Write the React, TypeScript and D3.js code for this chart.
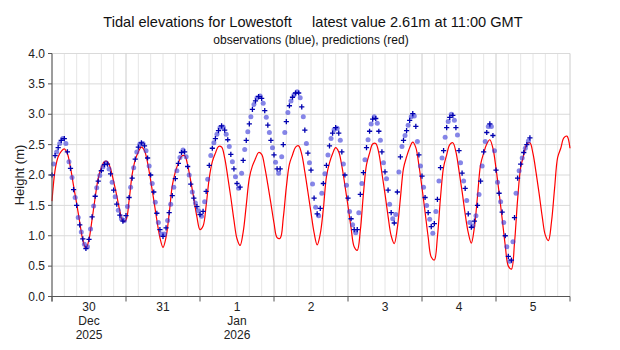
import React from "react";
import * as d3 from "d3";

// hours since 30 Dec 2025 00:00 GMT
const dayLabels = ["30", "31", "1", "2", "3", "4", "5"];
const monthLabels = ["Dec", "", "Jan", "", "", "", ""];
const yearLabels = ["2025", "", "2026", "", "", "", ""];
const yTicks = [0, 0.5, 1, 1.5, 2, 2.5, 3, 3.5, 4];

// predictions, hourly from 00:00 30 Dec to 00:00 6 Jan
const predicted = [
  1.57, 2.08, 2.3, 2.39, 2.43, 2.35, 2.12, 1.82, 1.53, 1.22,
  0.93, 0.79, 0.94, 1.27, 1.63, 1.95, 2.12, 2.22, 2.22, 2.1,
  1.89, 1.66, 1.41, 1.23, 1.26, 1.58, 2.01, 2.25, 2.38, 2.46,
  2.4, 2.2, 1.91, 1.59, 1.26, 0.97, 0.81, 0.98, 1.36, 1.82,
  2.05, 2.2, 2.31, 2.32, 2.16, 1.9, 1.61, 1.31, 1.1, 1.16,
  1.5, 1.95, 2.22, 2.36, 2.47, 2.46, 2.28, 1.97, 1.63, 1.26,
  0.95, 0.84, 1.06, 1.5, 1.95, 2.15, 2.27, 2.37, 2.34, 2.13,
  1.84, 1.53, 1.21, 0.97, 0.96, 1.29, 1.8, 2.18, 2.33, 2.46,
  2.48, 2.34, 2.05, 1.72, 1.38, 1.05, 0.85, 1.03, 1.44, 1.97,
  2.2, 2.35, 2.45, 2.38, 2.15, 1.83, 1.49, 1.13, 0.82, 0.76,
  1.09, 1.69, 2.17, 2.36, 2.51, 2.52, 2.36, 2.03, 1.69, 1.32,
  1.0, 0.87, 1.13, 1.62, 2.11, 2.3, 2.45, 2.54, 2.45, 2.16,
  1.79, 1.39, 0.98, 0.65, 0.6, 0.98, 1.63, 2.13, 2.33, 2.5,
  2.53, 2.38, 2.07, 1.73, 1.36, 1.05, 0.88, 1.14, 1.65, 2.17,
  2.36, 2.51, 2.58, 2.44, 2.11, 1.71, 1.28, 0.84, 0.5, 0.45,
  0.88, 1.59, 2.12, 2.33, 2.51, 2.53, 2.35, 2.04, 1.69, 1.31,
  1.01, 0.92, 1.23, 1.78, 2.29, 2.44, 2.61, 2.64, 2.44,
];

// observations on the hour (+ markers), 00:00 30 Dec to 11:00 5 Jan
const observedOnHour = [
  2.0, 2.32, 2.45, 2.57, 2.6, 2.38, 2.11, 1.76, 1.5, 1.18,
  0.95, 0.79, 0.94, 1.31, 1.65, 1.9, 2.07, 2.17, 2.18, 2.02,
  1.75, 1.52, 1.34, 1.24, 1.33, 1.63, 1.95, 2.26, 2.46, 2.53,
  2.48, 2.28, 2.0, 1.72, 1.37, 1.1, 0.99, 1.13, 1.38, 1.66,
  1.94, 2.19, 2.37, 2.38, 2.14, 1.85, 1.62, 1.48, 1.35, 1.4,
  1.73, 2.16, 2.44, 2.6, 2.73, 2.81, 2.74, 2.58, 2.34, 2.1,
  1.86, 1.8, 2.24, 2.57, 2.84, 3.08, 3.22, 3.29, 3.26, 3.06,
  2.82, 2.57, 2.33, 2.1, 2.1, 2.5, 2.88, 3.14, 3.28, 3.35,
  3.35, 3.12, 2.74, 2.36, 2.08, 1.62, 1.36, 1.45, 1.86, 2.16,
  2.48, 2.69, 2.78, 2.69, 2.38, 2.0, 1.62, 1.28, 1.1, 1.1,
  1.68, 2.04, 2.45, 2.72, 2.92, 2.93, 2.72, 2.38, 2.05, 1.75,
  1.38, 1.21, 1.72, 2.3, 2.57, 2.73, 2.9, 3.01, 2.8, 2.33,
  1.98, 1.63, 1.38, 1.15, 1.2, 1.6, 2.12, 2.4, 2.78, 2.95,
  2.98, 2.78, 2.4, 2.03, 1.78, 1.36, 1.14, 1.24, 1.5, 1.9,
  2.38, 2.7, 2.84, 2.65, 2.08, 1.7, 1.39, 1.0, 0.66, 0.6,
  1.3, 1.95, 2.18, 2.37, 2.5, 2.61,
];

// observations on the half hour (round markers), 00:30 30 Dec to 10:30 5 Jan
const observedHalfHour = [
  2.18, 2.38, 2.52, 2.6, 2.52, 2.22, 1.96, 1.63, 1.3, 1.06,
  0.86, 0.82, 1.11, 1.49, 1.79, 1.99, 2.13, 2.2, 2.1, 1.88,
  1.64, 1.42, 1.28, 1.25, 1.48, 1.8, 2.12, 2.38, 2.51, 2.52,
  2.4, 2.15, 1.86, 1.55, 1.22, 1.03, 1.03, 1.25, 1.52, 1.8,
  2.07, 2.29, 2.41, 2.3, 2.0, 1.72, 1.54, 1.41, 1.32, 1.56,
  1.93, 2.32, 2.53, 2.67, 2.78, 2.79, 2.67, 2.47, 2.22, 1.97,
  1.78, 2.03, 2.42, 2.71, 2.96, 3.16, 3.27, 3.3, 3.18, 2.95,
  2.7, 2.45, 2.21, 2.03, 2.3, 2.7, 3.03, 3.22, 3.32, 3.37,
  3.27, 2.96, 2.52, 2.2, 1.85, 1.47, 1.33, 1.7, 2.02, 2.33,
  2.6, 2.75, 2.77, 2.57, 2.18, 1.83, 1.4, 1.18, 1.05, 1.38,
  1.86, 2.25, 2.58, 2.84, 2.96, 2.85, 2.57, 2.2, 1.94, 1.52,
  1.28, 1.35, 2.05, 2.47, 2.65, 2.82, 2.96, 2.97, 2.55, 2.15,
  1.8, 1.5, 1.27, 1.04, 1.4, 1.9, 2.28, 2.62, 2.88, 3.0,
  2.9, 2.66, 2.2, 1.9, 1.58, 1.22, 1.16, 1.33, 1.68, 2.15,
  2.55, 2.8, 2.8, 2.4, 1.88, 1.56, 1.22, 0.82, 0.58, 0.9,
  1.7, 2.07, 2.28, 2.44, 2.56,
];

const W = 620;
const H = 350;
const left = 52;
const right = 570;
const top = 53.5;
const bottom = 296.5;
const font = "'Liberation Sans', Arial, sans-serif";

const App = () => {
  const x = d3.scaleLinear().domain([0, 168]).range([left, right]);
  const y = d3.scaleLinear().domain([0, 4]).range([bottom, top]);

  const line = d3
    .line<number>()
    .x((d, i) => x(i))
    .y((d) => y(d))
    .curve(d3.curveCatmullRom.alpha(0.5));

  const minorHours = d3.range(4, 168, 4).filter((h) => h % 24 !== 0);
  const majorHours = d3.range(0, 169, 24);

  return (
    <svg
      width={W}
      height={H}
      style={{ position: "absolute", left: 0, top: 0, background: "#fff" }}
      fontFamily={font}
    >
      {/* grid */}
      {minorHours.map((h) => (
        <line key={"m" + h} x1={x(h)} x2={x(h)} y1={top} y2={bottom} stroke="#e6e6e6" />
      ))}
      {yTicks.map((v) => (
        <line key={"h" + v} x1={left} x2={right} y1={y(v)} y2={y(v)} stroke="#dadada" />
      ))}
      {majorHours.map((h) => (
        <line key={"M" + h} x1={x(h)} x2={x(h)} y1={top} y2={bottom} stroke="#cccccc" />
      ))}

      {/* predictions */}
      <path d={line(predicted) || ""} fill="none" stroke="#ff0000" strokeWidth={1.2} />

      {/* observations */}
      {observedHalfHour.map((v, i) => (
        <circle key={"c" + i} cx={x(i + 0.5)} cy={y(v)} r={2.5} fill="#3535d8" fillOpacity={0.6} />
      ))}
      {observedOnHour.map((v, i) => (
        <path
          key={"p" + i}
          transform={`translate(${x(i)},${y(v)})`}
          d="M-2.6,0H2.6M0,-2.6V2.6"
          stroke="#0000b0"
          strokeWidth={1.3}
        />
      ))}

      {/* axes */}
      <line x1={left} x2={left} y1={top} y2={bottom + 5} stroke="#555" />
      <line x1={left - 4} x2={right} y1={bottom} y2={bottom} stroke="#555" />
      {yTicks.map((v) => (
        <g key={"yt" + v}>
          <line x1={left - 4} x2={left} y1={y(v)} y2={y(v)} stroke="#555" />
          <text x={left - 7} y={y(v)} dy="0.35em" textAnchor="end" fontSize={12} fill="#222">
            {v.toFixed(1)}
          </text>
        </g>
      ))}
      {majorHours.map((h) => (
        <line key={"xt" + h} x1={x(h)} x2={x(h)} y1={bottom} y2={bottom + 5} stroke="#555" />
      ))}
      {dayLabels.map((d, i) => (
        <text key={"d" + i} x={x(i * 24 + 12)} y={bottom} textAnchor="middle" fontSize={12} fill="#222">
          <tspan x={x(i * 24 + 12)} dy={14}>{d}</tspan>
          {monthLabels[i] && <tspan x={x(i * 24 + 12)} dy={14}>{monthLabels[i]}</tspan>}
          {yearLabels[i] && <tspan x={x(i * 24 + 12)} dy={14}>{yearLabels[i]}</tspan>}
        </text>
      ))}

      <text
        transform={`translate(24,${(top + bottom) / 2}) rotate(-90)`}
        textAnchor="middle"
        fontSize={13}
        fill="#222"
      >
        Height (m)
      </text>

      <text x={313} y={27} textAnchor="middle" fontSize={14.6} fill="#111" style={{ whiteSpace: "pre" }}>
        {"Tidal elevations for Lowestoft     latest value 2.61m at 11:00 GMT"}
      </text>
      <text x={311} y={44} textAnchor="middle" fontSize={12} fill="#111">
        observations (blue), predictions (red)
      </text>
    </svg>
  );
};

export default App;
